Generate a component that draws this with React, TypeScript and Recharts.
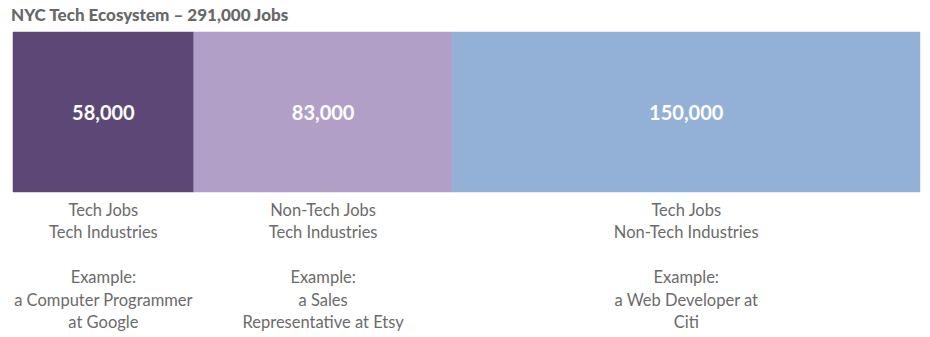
import React from "react";
import { BarChart, Bar, XAxis, YAxis, LabelList } from "recharts";

const categories = ["Tech Jobs, Tech Industries", "Non-Tech Jobs, Tech Industries", "Tech Jobs, Non-Tech Industries"];
const seriesKeys = ["techTech", "nonTechTech", "techNonTech"];
const jobs = [58000, 83000, 150000];
const colors = ["#5d4777", "#b29fc7", "#93b1d6"];
const captions = [
  ["Tech Jobs", "Tech Industries", "", "Example:", "a Computer Programmer", "at Google"],
  ["Non-Tech Jobs", "Tech Industries", "", "Example:", "a Sales", "Representative at Etsy"],
  ["Tech Jobs", "Non-Tech Industries", "", "Example:", "a Web Developer at", "Citi"],
];
const total = 291000;

const FONT = "Lato, 'Open Sans', sans-serif";

const row: Record<string, string | number> = { name: "NYC" };
seriesKeys.forEach((k, i) => {
  row[k] = jobs[i];
});
const data = [row];

function fmt(n: number) {
  return new Intl.NumberFormat("en-US").format(n);
}

function makeLabel(idx: number) {
  return (props: any) => {
    const { x, y, width, height, value } = props;
    const cx = Number(x) + Number(width) / 2;
    const bottom = Number(y) + Number(height);
    return (
      <g>
        <text
          x={cx}
          y={Number(y) + Number(height) / 2}
          textAnchor="middle"
          dominantBaseline="central"
          fill="#ffffff"
          fontFamily={FONT}
          fontWeight={700}
          fontSize={20}
        >
          {fmt(Number(value))}
        </text>
        {captions[idx].map((line, j) => (
          <text
            key={j}
            x={cx}
            y={bottom + 24 + j * 22.4}
            textAnchor="middle"
            fill="#6b6b6b"
            fontFamily={FONT}
            fontSize={16.5}
          >
            {line}
          </text>
        ))}
      </g>
    );
  };
}

export default function App() {
  return (
    <div style={{ position: "absolute", left: 0, top: 0, width: 930, height: 337, background: "#fff" }}>
      <div
        style={{
          position: "absolute",
          left: 11,
          top: 4,
          fontFamily: FONT,
          fontWeight: 900,
          fontSize: 17,
          color: "#686868",
        }}
      >
        NYC Tech Ecosystem – {fmt(total)} Jobs
      </div>
      <BarChart
        width={930}
        height={337}
        data={data}
        layout="vertical"
        margin={{ top: 32, right: 10, bottom: 145, left: 13 }}
        barCategoryGap={0}
      >
        <XAxis type="number" domain={[0, total]} hide />
        <YAxis type="category" dataKey="name" hide />
        {seriesKeys.map((k, i) => (
          <Bar
            key={k}
            dataKey={k}
            name={categories[i]}
            stackId="a"
            fill={colors[i]}
            stroke={colors[i]}
            strokeWidth={0.5}
            isAnimationActive={false}
          >
            <LabelList dataKey={k} content={makeLabel(i)} />
          </Bar>
        ))}
      </BarChart>
    </div>
  );
}
